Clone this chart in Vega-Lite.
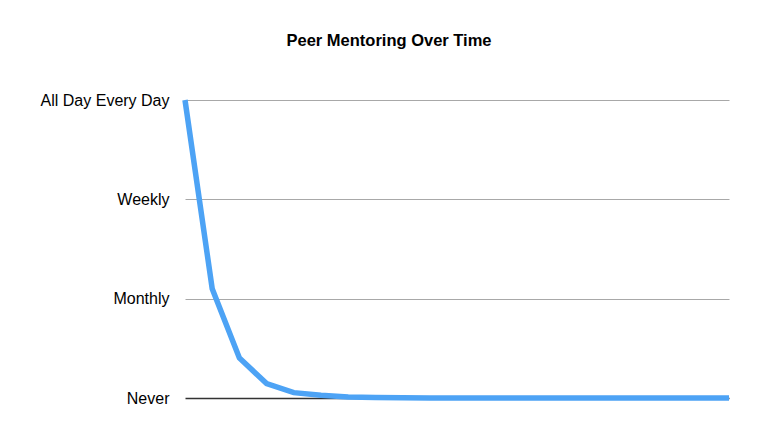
{
  "$schema": "https://vega.github.io/schema/vega-lite/v6.json",
  "width": 544,
  "height": 298,
  "autosize": "none",
  "padding": {"left": 185, "top": 100, "right": 39, "bottom": 34},
  "background": "white",
  "title": {
    "text": "Peer Mentoring Over Time",
    "font": "Liberation Sans",
    "fontSize": 16.5,
    "fontWeight": "bold",
    "color": "#000000",
    "anchor": "middle",
    "dx": -68,
    "offset": 40
  },
  "config": {"view": {"stroke": null}},
  "data": {
    "values": [
      {"t": 0, "v": 3},
      {"t": 1, "v": 1.1},
      {"t": 2, "v": 0.403},
      {"t": 3, "v": 0.145},
      {"t": 4, "v": 0.054},
      {"t": 5, "v": 0.027},
      {"t": 6, "v": 0.01},
      {"t": 7, "v": 0.005},
      {"t": 8, "v": 0.002},
      {"t": 9, "v": 0.001},
      {"t": 10, "v": 0},
      {"t": 11, "v": 0},
      {"t": 12, "v": 0},
      {"t": 13, "v": 0},
      {"t": 14, "v": 0},
      {"t": 15, "v": 0},
      {"t": 16, "v": 0},
      {"t": 17, "v": 0},
      {"t": 18, "v": 0},
      {"t": 19, "v": 0},
      {"t": 20, "v": 0}
    ]
  },
  "mark": {"type": "line", "color": "#4DA3F5", "strokeWidth": 5.5, "strokeCap": "butt", "clip": false},
  "encoding": {
    "x": {"field": "t", "type": "quantitative", "scale": {"domain": [0, 20], "nice": false, "zero": false}, "axis": null},
    "y": {
      "field": "v",
      "type": "quantitative",
      "scale": {"domain": [0, 3], "nice": false},
      "axis": {
        "title": null,
        "values": [0, 1, 2, 3],
        "domain": false,
        "ticks": false,
        "labelPadding": 16,
        "labelFont": "Liberation Sans",
        "labelFontSize": 16,
        "labelColor": "#000000",
        "labelExpr": "datum.value === 3 ? 'All Day Every Day' : datum.value === 2 ? 'Weekly' : datum.value === 1 ? 'Monthly' : 'Never'",
        "grid": true,
        "gridColor": {"condition": {"test": "datum.value === 0", "value": "#333333"}, "value": "#a8a8a8"},
        "gridWidth": {"condition": {"test": "datum.value === 0", "value": 1.5}, "value": 1},
        "gridOpacity": 1
      }
    }
  }
}
